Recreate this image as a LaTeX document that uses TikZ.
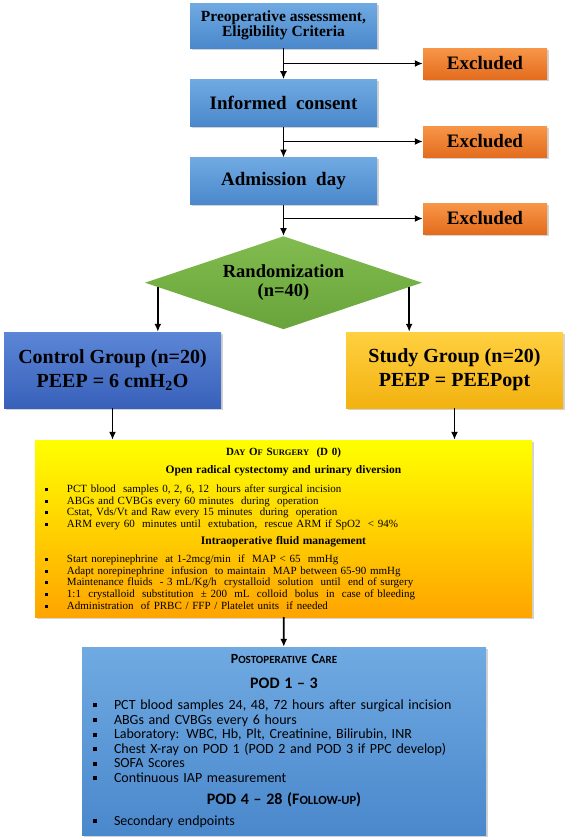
\documentclass[tikz,border=0pt]{standalone}
\usepackage{fontspec}
\setmainfont{Liberation Serif}
\newfontfamily\calib{Carlito}
\usetikzlibrary{positioning}
\usetikzlibrary{shapes.geometric}
\usetikzlibrary{shadows}
\usetikzlibrary{arrows.meta}

\definecolor{bluetop}{RGB}{112,170,226}
\definecolor{bluebot}{RGB}{74,136,204}
\definecolor{orgtop}{RGB}{248,150,72}
\definecolor{orgbot}{RGB}{228,108,30}
\definecolor{grntop}{RGB}{130,188,80}
\definecolor{grnbot}{RGB}{104,164,58}
\definecolor{ctltop}{RGB}{92,134,214}
\definecolor{ctlbot}{RGB}{56,96,186}
\definecolor{stdtop}{RGB}{255,208,64}
\definecolor{stdbot}{RGB}{242,178,16}
\definecolor{surgtop}{RGB}{255,255,0}
\definecolor{surgbot}{RGB}{255,164,0}

% small capitals made by hand: size, letters
\newcommand\smallcap[2]{{\fontsize{#1}{#1}\selectfont #2}}
\newcommand\sqbul[2]{\makebox[#1][l]{\rule[.3ex]{#2}{#2}}}

\tikzset{node distance=31pt,     % gap between the steps of the chain
    shadowed/.style={
        drop shadow={shadow xshift=1.5pt,shadow yshift=-1.5pt,opacity=.35}},
    stepbox/.style={             % blue boxes of the top chain
        shadowed,
        minimum width=187pt, minimum height=47pt, inner sep=2pt,
        top color=bluetop, bottom color=bluebot,
        align=center, font=\fontsize{19}{19}\selectfont\bfseries},
    excl/.style={                % orange exclusion boxes
        shadowed,
        minimum width=124pt, minimum height=31pt, inner sep=2pt,
        top color=orgtop, bottom color=orgbot,
        font=\fontsize{19}{19}\selectfont\bfseries},
    group/.style={               % the two arms
        shadowed,
        minimum width=217pt, minimum height=76pt, inner sep=2pt,
        align=center, font=\fontsize{20}{24}\selectfont\bfseries},
    arr/.style={                 % connectors
        draw, line width=1.6pt,
        -{Latex[length=8pt,width=7pt]}}}

\begin{document}
\begin{tikzpicture}[x=1pt,y=-1pt]
    \useasboundingbox (0,0) rectangle (567,839);

    \node[stepbox, minimum height=45pt, font=\fontsize{15.5}{15}\selectfont\bfseries]
        (preop) at (283.5,25.5) {Preoperative assessment,\\Eligibility Criteria};
    \node[stepbox, below=of preop] (consent) {Informed\ \ consent};
    \node[stepbox, below=of consent] (admit) {Admission\ \ day};
    \node[diamond, aspect=3, minimum width=277pt, minimum height=93pt, inner sep=0pt,
        top color=grntop, bottom color=grnbot, align=center,
        font=\fontsize{18.5}{19}\selectfont\bfseries,
        below=of admit] (rand) {Randomization\\(n=40)};

    \node[excl] (ex1) at (485,63.5) {Excluded};
    \node[excl] (ex2) at (485,141.5) {Excluded};
    \node[excl] (ex3) at (485,218.5) {Excluded};

    \node[group, top color=ctltop, bottom color=ctlbot] (ctrl) at (112.5,370)
        {Control Group (n=20)\\PEEP = 6 cmH\textsubscript{2}O};
    \node[group, top color=stdtop, bottom color=stdbot] (study) at (454.5,370)
        {Study Group (n=20)\\PEEP = PEEPopt};

    % day of surgery
    \node[shadowed, top color=surgtop, bottom color=surgbot,
        minimum width=497pt, minimum height=177pt, inner xsep=10pt, inner ysep=3pt,
        text width=477pt, align=left, font=\fontsize{11}{11.7}\selectfont]
        (surgery) at (283.5,528.5) {%
        \makebox[477pt][c]{\bfseries\fontsize{11}{11}\selectfont D\smallcap{8.5pt}{AY} O\smallcap{8.5pt}{F} S\smallcap{8.5pt}{URGERY}\ \ (D 0)}\\[6.3pt]
        \makebox[477pt][c]{\bfseries\fontsize{11.5}{11.5}\selectfont Open radical cystectomy and urinary diversion}\\[7.3pt]
        \sqbul{22pt}{3pt}PCT blood\ \ samples 0, 2, 6, 12\ \ hours after surgical incision\\
        \sqbul{22pt}{3pt}ABGs and CVBGs every 60 minutes\ \ during\ \ operation\\
        \sqbul{22pt}{3pt}Cstat, Vds/Vt and Raw every 15 minutes\ \ during\ \ operation\\
        \sqbul{22pt}{3pt}ARM every 60\ \ minutes until\ \ extubation,\ \ rescue ARM if SpO2\ \ < 94\%\\[5.3pt]
        \makebox[477pt][c]{\bfseries\fontsize{11.5}{11.5}\selectfont Intraoperative fluid management}\\[6.3pt]
        \sqbul{22pt}{3pt}Start norepinephrine\ \ at 1-2mcg/min\ \ if\ \ MAP < 65\ \ mmHg\\
        \sqbul{22pt}{3pt}Adapt norepinephrine\ \ infusion\ \ to maintain\ \ MAP between 65-90 mmHg\\
        \sqbul{22pt}{3pt}Maintenance fluids\ \ - 3 mL/Kg/h\ \ crystalloid\ \ solution\ \ until\ \ end of surgery\\
        \sqbul{22pt}{3pt}1:1\ \ crystalloid\ \ substitution\ \ ± 200\ \ mL\ \ colloid\ \ bolus\ \ in\ \ case of bleeding\\
        \sqbul{22pt}{3pt}Administration\ \ of PRBC / FFP / Platelet units\ \ if needed};

    % postoperative care
    \node[shadowed, top color=bluetop, bottom color=bluebot,
        minimum width=404pt, minimum height=188pt, inner xsep=11pt, inner ysep=3pt,
        text width=382pt, align=left, font=\calib\fontsize{14}{14.6}\selectfont]
        (postop) at (284,741) {%
        \vspace*{4pt}%
        \makebox[382pt][c]{\bfseries P\smallcap{11pt}{OSTOPERATIVE} C\smallcap{11pt}{ARE}}\\[6.4pt]
        \makebox[382pt][c]{\bfseries\fontsize{16}{16}\selectfont POD 1 – 3}\\[6.4pt]
        \sqbul{21pt}{4pt}PCT blood samples 24, 48, 72 hours after surgical incision\\
        \sqbul{21pt}{4pt}ABGs and CVBGs every 6 hours\\
        \sqbul{21pt}{4pt}Laboratory: WBC, Hb, Plt, Creatinine, Bilirubin, INR\\
        \sqbul{21pt}{4pt}Chest X-ray on POD 1 (POD 2 and POD 3 if PPC develop)\\
        \sqbul{21pt}{4pt}SOFA Scores\\
        \sqbul{21pt}{4pt}Continuous IAP measurement\\[7.4pt]
        \makebox[382pt][c]{\bfseries\fontsize{16}{16}\selectfont POD 4 – 28 (F\smallcap{12.5pt}{OLLOW-UP})}\\[6.4pt]
        \sqbul{21pt}{4pt}Secondary endpoints};

    \draw[arr] (preop) -- (consent);
    \draw[arr] (preop.south |- ex1.west) -- (ex1.west);
    \draw[arr] (consent) -- (admit);
    \draw[arr] (consent.south |- ex2.west) -- (ex2.west);
    \draw[arr] (admit) -- (rand);
    \draw[arr] (admit.south |- ex3.west) -- (ex3.west);
    \draw[arr] (rand.182) -- (rand.182 |- ctrl.north);
    \draw[arr] (rand.358) -- (rand.358 |- study.north);
    \draw[arr] (ctrl.south) -- (ctrl.south |- surgery.north);
    \draw[arr] (study.south) -- (study.south |- surgery.north);
    \draw[arr] (surgery) -- (postop);
\end{tikzpicture}
\end{document}
